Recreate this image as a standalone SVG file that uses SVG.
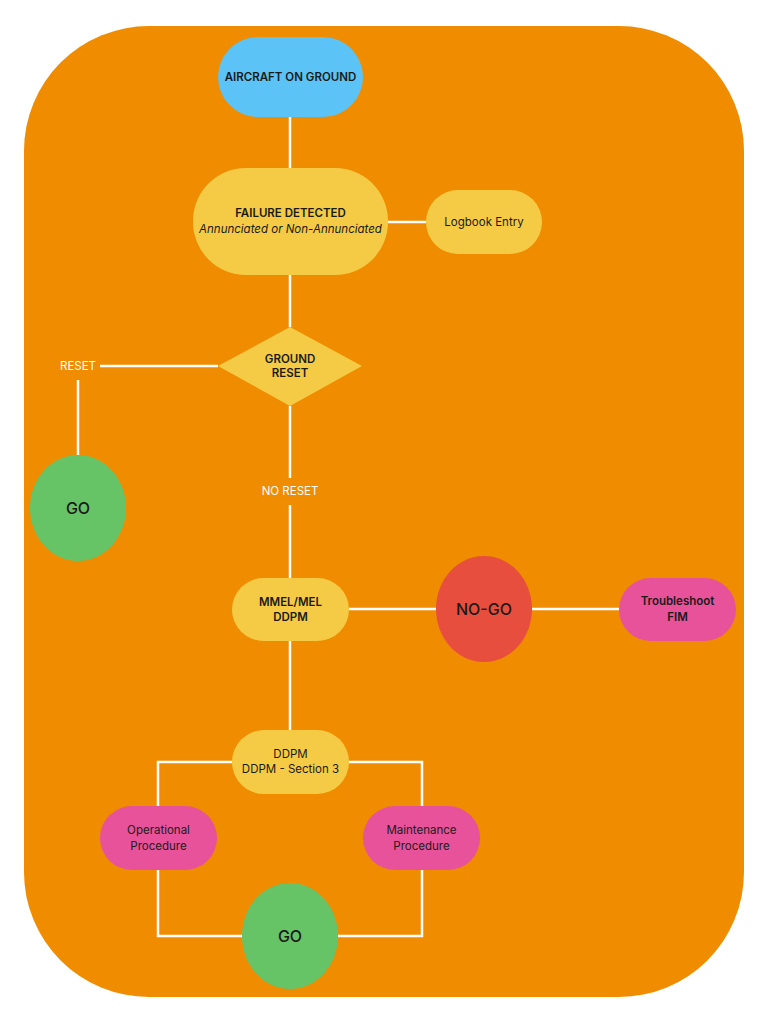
<svg xmlns="http://www.w3.org/2000/svg" width="768" height="1024" viewBox="0 0 768 1024">
<style>
.t{font-family:Inter,"Liberation Sans",sans-serif;fill:#1a1a1a;text-anchor:middle;dominant-baseline:central}
.b{font-weight:600;font-size:11.5px}
.r{font-size:11.5px}
.lbl{font-family:Inter,"Liberation Sans",sans-serif;fill:#ffffff;font-size:11.5px;text-anchor:middle;dominant-baseline:central}
.c line,.c path{stroke:#ffffff;stroke-width:2.5;fill:none}
.big{font-size:16px;font-weight:500}
</style>
<rect x="24" y="26" width="720" height="971" rx="125" ry="125" fill="#F08C00"/>
<g class="c" id="connectors">
<line x1="290" y1="117" x2="290" y2="168"/>
<line x1="388" y1="222" x2="426" y2="222"/>
<line x1="290" y1="275" x2="290" y2="327"/>
<line x1="100" y1="366" x2="218" y2="366"/>
<line x1="78" y1="380" x2="78" y2="456"/>
<line x1="290" y1="406" x2="290" y2="478"/>
<line x1="290" y1="505" x2="290" y2="578"/>
<line x1="349" y1="609" x2="436" y2="609"/>
<line x1="532" y1="609" x2="619" y2="609"/>
<line x1="290" y1="641" x2="290" y2="730"/>
<path d="M232 762 H158 V806"/>
<path d="M349 762 H422 V806"/>
<path d="M158 870 V936 H242"/>
<path d="M422 870 V936 H338"/>
<text class="lbl" x="78" y="366">RESET</text>
<text class="lbl" x="290" y="491">NO RESET</text>
</g>
<g id="aircraft"><rect x="218" y="37" width="145" height="80" rx="40" fill="#5BC3F5"/><text class="t b" x="290.5" y="77">AIRCRAFT ON GROUND</text></g>
<g id="failure"><rect x="193" y="168" width="195" height="107" rx="53" fill="#F5CB45"/><text class="t b" x="290.5" y="213">FAILURE DETECTED</text><text class="t r" x="290.5" y="229" font-style="italic" font-size="10.8">Annunciated or Non-Annunciated</text></g>
<g id="logbook"><rect x="426" y="190" width="116" height="64" rx="32" fill="#F5CB45"/><text class="t r" x="484" y="222">Logbook Entry</text></g>
<g id="groundreset"><polygon points="290,327 362,366 290,406 218,366" fill="#F5CB45"/><text class="t b" x="290" y="359">GROUND</text><text class="t b" x="290" y="373">RESET</text></g>
<g id="go1"><ellipse cx="78" cy="508" rx="48" ry="53" fill="#66C466"/><text class="t big" x="78" y="508">GO</text></g>
<g id="mmel"><rect x="232" y="578" width="117" height="63" rx="31.5" fill="#F5CB45"/><text class="t b" x="290.5" y="602">MMEL/MEL</text><text class="t b" x="290.5" y="617">DDPM</text></g>
<g id="nogo"><ellipse cx="484" cy="609" rx="48" ry="53" fill="#E84E3E"/><text class="t big" x="484" y="609">NO-GO</text></g>
<g id="troubleshoot"><rect x="619" y="578" width="117" height="63" rx="31.5" fill="#E8529A"/><text class="t b" x="677.5" y="601">Troubleshoot</text><text class="t b" x="677.5" y="617">FIM</text></g>
<g id="ddpm"><rect x="232" y="730" width="117" height="64" rx="32" fill="#F5CB45"/><text class="t r" x="290.5" y="754">DDPM</text><text class="t r" x="290.5" y="769">DDPM - Section 3</text></g>
<g id="operational"><rect x="100" y="806" width="117" height="64" rx="32" fill="#E8529A"/><text class="t r" x="158.5" y="830">Operational</text><text class="t r" x="158.5" y="846">Procedure</text></g>
<g id="maintenance"><rect x="363" y="806" width="117" height="64" rx="32" fill="#E8529A"/><text class="t r" x="421.5" y="830">Maintenance</text><text class="t r" x="421.5" y="846">Procedure</text></g>
<g id="go2"><ellipse cx="290" cy="936" rx="48" ry="53" fill="#66C466"/><text class="t big" x="290" y="936">GO</text></g>
</svg>
